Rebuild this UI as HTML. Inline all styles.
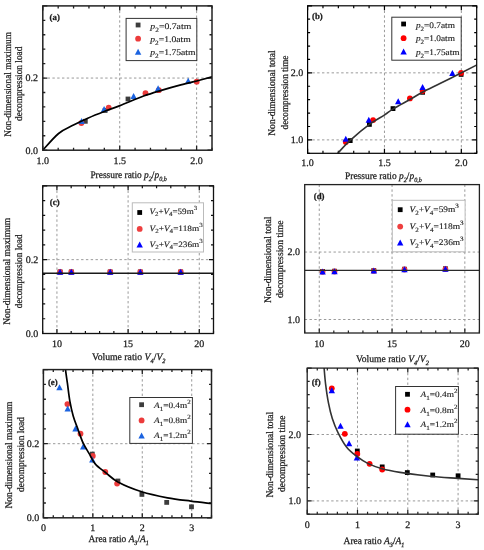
<!DOCTYPE html>
<html><head><meta charset="utf-8"><style>
html,body{margin:0;padding:0;background:#fff;}
svg{display:block;will-change:transform;}
text{font-family:"Liberation Serif", serif;fill:#1a1a1a;stroke:#1a1a1a;stroke-width:0.25px;text-rendering:geometricPrecision;}
text.lg{stroke-width:0.12px;}
</style></head><body>
<svg width="484" height="550" viewBox="0 0 484 550">
<rect width="484" height="550" fill="#fff"/>
<clipPath id="clipa"><rect x="42.80" y="5.90" width="169.20" height="144.30"/></clipPath>
<line x1="119.71" y1="5.90" x2="119.71" y2="150.20" stroke="#9a9a9a" stroke-width="1" stroke-dasharray="2.4 2.4"/>
<line x1="196.62" y1="5.90" x2="196.62" y2="150.20" stroke="#9a9a9a" stroke-width="1" stroke-dasharray="2.4 2.4"/>
<line x1="42.80" y1="78.05" x2="212.00" y2="78.05" stroke="#9a9a9a" stroke-width="1" stroke-dasharray="2.4 2.4"/>
<path d="M42.80,150.20v-4.5 M42.80,5.90v4.5 M58.18,150.20v-2.5 M58.18,5.90v2.5 M73.56,150.20v-2.5 M73.56,5.90v2.5 M88.95,150.20v-2.5 M88.95,5.90v2.5 M104.33,150.20v-2.5 M104.33,5.90v2.5 M119.71,150.20v-4.5 M119.71,5.90v4.5 M135.09,150.20v-2.5 M135.09,5.90v2.5 M150.47,150.20v-2.5 M150.47,5.90v2.5 M165.85,150.20v-2.5 M165.85,5.90v2.5 M181.24,150.20v-2.5 M181.24,5.90v2.5 M196.62,150.20v-4.5 M196.62,5.90v4.5 M212.00,150.20v-2.5 M212.00,5.90v2.5 M42.80,150.20h4.5 M212.00,150.20h-4.5 M42.80,135.77h2.5 M212.00,135.77h-2.5 M42.80,121.34h2.5 M212.00,121.34h-2.5 M42.80,106.91h2.5 M212.00,106.91h-2.5 M42.80,92.48h2.5 M212.00,92.48h-2.5 M42.80,78.05h4.5 M212.00,78.05h-4.5 M42.80,63.62h2.5 M212.00,63.62h-2.5 M42.80,49.19h2.5 M212.00,49.19h-2.5 M42.80,34.76h2.5 M212.00,34.76h-2.5 M42.80,20.33h2.5 M212.00,20.33h-2.5 M42.80,5.90h4.5 M212.00,5.90h-4.5" stroke="#222" stroke-width="1.3" fill="none"/>
<rect x="82.90" y="118.90" width="4.80" height="4.80" fill="#3d3d3d"/>
<rect x="102.70" y="108.10" width="4.80" height="4.80" fill="#3d3d3d"/>
<rect x="125.60" y="96.60" width="4.80" height="4.80" fill="#3d3d3d"/>
<circle cx="81.40" cy="123.00" r="2.90" fill="#ec3b3b"/>
<circle cx="108.70" cy="107.60" r="2.90" fill="#ec3b3b"/>
<circle cx="145.50" cy="93.20" r="2.90" fill="#ec3b3b"/>
<circle cx="158.80" cy="90.20" r="2.90" fill="#ec3b3b"/>
<circle cx="196.70" cy="81.70" r="2.90" fill="#ec3b3b"/>
<polygon points="81.60,118.00 84.80,124.00 78.40,124.00" fill="#1b63e0"/>
<polygon points="104.10,106.00 107.30,112.00 100.90,112.00" fill="#1b63e0"/>
<polygon points="133.60,93.10 136.80,99.10 130.40,99.10" fill="#1b63e0"/>
<polygon points="158.10,85.20 161.30,91.20 154.90,91.20" fill="#1b63e0"/>
<polygon points="188.20,77.80 191.40,83.80 185.00,83.80" fill="#1b63e0"/>
<path d="M42.80,150.20 C45.43,147.42 53.48,137.68 58.60,133.50 C63.72,129.32 68.55,127.68 73.50,125.10 C78.45,122.52 83.20,120.27 88.30,118.00 C93.40,115.73 98.82,113.57 104.10,111.50 C109.38,109.43 113.42,108.18 120.00,105.60 C126.58,103.02 136.57,98.58 143.60,96.00 C150.63,93.42 156.00,91.95 162.20,90.10 C168.40,88.25 174.60,86.55 180.80,84.90 C187.00,83.25 194.20,81.53 199.40,80.20 C204.60,78.87 209.23,77.62 212.00,76.90 C214.77,76.18 215.33,76.07 216.00,75.90" stroke="#000" stroke-width="1.7" fill="none" stroke-linejoin="round" clip-path="url(#clipa)"/>
<rect x="126.10" y="18.40" width="70.70" height="42.20" fill="#fff" stroke="#333" stroke-width="1.0"/>
<rect x="135.70" y="22.60" width="4.80" height="4.80" fill="#3d3d3d"/>
<text class="lg" x="150.30" y="28.70" font-size="8.6" textLength="41.0" lengthAdjust="spacingAndGlyphs"><tspan font-style="italic">p</tspan><tspan font-size="6.54" baseline-shift="-2.58">2</tspan>=0.7atm</text>
<circle cx="138.10" cy="38.70" r="2.90" fill="#ec3b3b"/>
<text class="lg" x="150.30" y="42.30" font-size="8.6" textLength="40.5" lengthAdjust="spacingAndGlyphs"><tspan font-style="italic">p</tspan><tspan font-size="6.54" baseline-shift="-2.58">2</tspan>=1.0atm</text>
<polygon points="138.10,48.80 141.30,54.80 134.90,54.80" fill="#1b63e0"/>
<text class="lg" x="150.30" y="55.40" font-size="8.6" textLength="45.2" lengthAdjust="spacingAndGlyphs"><tspan font-style="italic">p</tspan><tspan font-size="6.54" baseline-shift="-2.58">2</tspan>=1.75atm</text>
<rect x="42.80" y="5.90" width="169.20" height="144.30" fill="none" stroke="#222" stroke-width="1.5"/>
<text x="42.80" y="163.60" font-size="10" text-anchor="middle" >1.0</text>
<text x="119.71" y="163.60" font-size="10" text-anchor="middle" >1.5</text>
<text x="196.62" y="163.60" font-size="10" text-anchor="middle" >2.0</text>
<text x="38.00" y="153.60" font-size="10" text-anchor="end" >0.0</text>
<text x="38.00" y="81.45" font-size="10" text-anchor="end" >0.2</text>
<text x="49.60" y="19.90" font-size="8.8" font-weight="bold">(a)</text>
<text x="90.40" y="177.80" font-size="10" textLength="76.4" lengthAdjust="spacingAndGlyphs">Pressure ratio <tspan font-style="italic">p</tspan><tspan font-size="6.5" baseline-shift="-2.8" font-style="italic">2</tspan>/<tspan font-style="italic">p</tspan><tspan font-size="6.5" baseline-shift="-2.8" font-style="italic">0,b</tspan></text>
<text transform="translate(10.60,84.40) rotate(-90)" x="0" y="0" font-size="10" text-anchor="middle" textLength="104.8" lengthAdjust="spacingAndGlyphs">Non-dimensional maximum</text>
<text transform="translate(22.40,83.75) rotate(-90)" x="0" y="0" font-size="10" text-anchor="middle" textLength="74.3" lengthAdjust="spacingAndGlyphs">decompression load</text>
<clipPath id="clipb"><rect x="307.60" y="5.80" width="169.10" height="147.50"/></clipPath>
<line x1="384.46" y1="5.80" x2="384.46" y2="153.30" stroke="#9a9a9a" stroke-width="1" stroke-dasharray="2.4 2.4"/>
<line x1="461.33" y1="5.80" x2="461.33" y2="153.30" stroke="#9a9a9a" stroke-width="1" stroke-dasharray="2.4 2.4"/>
<line x1="307.60" y1="139.89" x2="476.70" y2="139.89" stroke="#9a9a9a" stroke-width="1" stroke-dasharray="2.4 2.4"/>
<line x1="307.60" y1="72.85" x2="476.70" y2="72.85" stroke="#9a9a9a" stroke-width="1" stroke-dasharray="2.4 2.4"/>
<path d="M307.60,153.30v-4.5 M307.60,5.80v4.5 M322.97,153.30v-2.5 M322.97,5.80v2.5 M338.35,153.30v-2.5 M338.35,5.80v2.5 M353.72,153.30v-2.5 M353.72,5.80v2.5 M369.09,153.30v-2.5 M369.09,5.80v2.5 M384.46,153.30v-4.5 M384.46,5.80v4.5 M399.84,153.30v-2.5 M399.84,5.80v2.5 M415.21,153.30v-2.5 M415.21,5.80v2.5 M430.58,153.30v-2.5 M430.58,5.80v2.5 M445.95,153.30v-2.5 M445.95,5.80v2.5 M461.33,153.30v-4.5 M461.33,5.80v4.5 M476.70,153.30v-2.5 M476.70,5.80v2.5 M307.60,153.30h2.5 M476.70,153.30h-2.5 M307.60,139.89h4.5 M476.70,139.89h-4.5 M307.60,126.48h2.5 M476.70,126.48h-2.5 M307.60,113.07h2.5 M476.70,113.07h-2.5 M307.60,99.66h2.5 M476.70,99.66h-2.5 M307.60,86.25h2.5 M476.70,86.25h-2.5 M307.60,72.85h4.5 M476.70,72.85h-4.5 M307.60,59.44h2.5 M476.70,59.44h-2.5 M307.60,46.03h2.5 M476.70,46.03h-2.5 M307.60,32.62h2.5 M476.70,32.62h-2.5 M307.60,19.21h2.5 M476.70,19.21h-2.5 M307.60,5.80h4.5 M476.70,5.80h-4.5" stroke="#000" stroke-width="1.2" fill="none"/>
<rect x="347.80" y="138.20" width="4.80" height="4.80" fill="#000000"/>
<rect x="367.00" y="122.00" width="4.80" height="4.80" fill="#000000"/>
<rect x="390.60" y="106.20" width="4.80" height="4.80" fill="#000000"/>
<rect x="420.20" y="89.90" width="4.80" height="4.80" fill="#000000"/>
<rect x="458.70" y="72.00" width="4.80" height="4.80" fill="#000000"/>
<circle cx="345.80" cy="142.00" r="2.90" fill="#ff0000"/>
<circle cx="373.10" cy="120.10" r="2.90" fill="#ff0000"/>
<circle cx="409.90" cy="98.40" r="2.90" fill="#ff0000"/>
<circle cx="422.60" cy="91.10" r="2.90" fill="#ff0000"/>
<circle cx="461.10" cy="72.90" r="2.90" fill="#ff0000"/>
<polygon points="345.80,135.70 349.00,141.70 342.60,141.70" fill="#0000ff"/>
<polygon points="368.80,116.80 372.00,122.80 365.60,122.80" fill="#0000ff"/>
<polygon points="398.20,98.20 401.40,104.20 395.00,104.20" fill="#0000ff"/>
<polygon points="422.60,84.10 425.80,90.10 419.40,90.10" fill="#0000ff"/>
<polygon points="452.40,69.90 455.60,75.90 449.20,75.90" fill="#0000ff"/>
<path d="M337.80,153.20 C339.82,151.10 344.63,145.40 349.90,140.60 C355.17,135.80 363.67,128.65 369.40,124.40 C375.13,120.15 380.27,117.73 384.30,115.10 C388.33,112.47 389.27,111.23 393.60,108.60 C397.93,105.97 405.50,102.03 410.30,99.30 C415.10,96.57 417.45,94.83 422.40,92.20 C427.35,89.57 433.57,86.70 440.00,83.50 C446.43,80.30 455.00,76.02 461.00,73.00 C467.00,69.98 472.83,67.00 476.00,65.40 C479.17,63.80 479.33,63.73 480.00,63.40" stroke="#333" stroke-width="1.6" fill="none" stroke-linejoin="round" clip-path="url(#clipb)"/>
<rect x="391.80" y="17.20" width="69.40" height="43.00" fill="#fff" stroke="#333" stroke-width="1.0"/>
<rect x="401.20" y="21.60" width="4.80" height="4.80" fill="#000000"/>
<text class="lg" x="415.90" y="27.60" font-size="8.6" textLength="39.0" lengthAdjust="spacingAndGlyphs"><tspan font-style="italic">p</tspan><tspan font-size="6.54" baseline-shift="-2.58">2</tspan>=0.7atm</text>
<circle cx="403.60" cy="38.20" r="2.90" fill="#ff0000"/>
<text class="lg" x="415.90" y="41.30" font-size="8.6" textLength="39.0" lengthAdjust="spacingAndGlyphs"><tspan font-style="italic">p</tspan><tspan font-size="6.54" baseline-shift="-2.58">2</tspan>=1.0atm</text>
<polygon points="403.60,48.60 406.80,54.60 400.40,54.60" fill="#0000ff"/>
<text class="lg" x="415.90" y="54.50" font-size="8.6" textLength="43.7" lengthAdjust="spacingAndGlyphs"><tspan font-style="italic">p</tspan><tspan font-size="6.54" baseline-shift="-2.58">2</tspan>=1.75atm</text>
<rect x="307.60" y="5.80" width="169.10" height="147.50" fill="none" stroke="#000" stroke-width="1.2"/>
<text x="307.60" y="166.30" font-size="10" text-anchor="middle" >1.0</text>
<text x="384.46" y="166.30" font-size="10" text-anchor="middle" >1.5</text>
<text x="461.33" y="166.30" font-size="10" text-anchor="middle" >2.0</text>
<text x="303.20" y="143.29" font-size="10" text-anchor="end" >1.0</text>
<text x="303.20" y="76.25" font-size="10" text-anchor="end" >2.0</text>
<text x="312.00" y="18.90" font-size="8.8" font-weight="bold">(b)</text>
<text x="345.00" y="178.60" font-size="10" textLength="76.8" lengthAdjust="spacingAndGlyphs">Pressure ratio <tspan font-style="italic">p</tspan><tspan font-size="6.5" baseline-shift="-2.8" font-style="italic">2</tspan>/<tspan font-style="italic">p</tspan><tspan font-size="6.5" baseline-shift="-2.8" font-style="italic">0,b</tspan></text>
<text transform="translate(274.70,93.10) rotate(-90)" x="0" y="0" font-size="10" text-anchor="middle" textLength="85.3" lengthAdjust="spacingAndGlyphs">Non-dimensional total</text>
<text transform="translate(287.50,92.50) rotate(-90)" x="0" y="0" font-size="10" text-anchor="middle" textLength="73.8" lengthAdjust="spacingAndGlyphs">decompression time</text>
<clipPath id="clipc"><rect x="42.70" y="185.80" width="170.80" height="147.70"/></clipPath>
<line x1="56.93" y1="185.80" x2="56.93" y2="333.50" stroke="#9a9a9a" stroke-width="1" stroke-dasharray="2.4 2.4"/>
<line x1="128.10" y1="185.80" x2="128.10" y2="333.50" stroke="#9a9a9a" stroke-width="1" stroke-dasharray="2.4 2.4"/>
<line x1="199.27" y1="185.80" x2="199.27" y2="333.50" stroke="#9a9a9a" stroke-width="1" stroke-dasharray="2.4 2.4"/>
<line x1="42.70" y1="259.65" x2="213.50" y2="259.65" stroke="#9a9a9a" stroke-width="1" stroke-dasharray="2.4 2.4"/>
<path d="M42.70,333.50v-2.5 M42.70,185.80v2.5 M56.93,333.50v-4.5 M56.93,185.80v4.5 M71.17,333.50v-2.5 M71.17,185.80v2.5 M85.40,333.50v-2.5 M85.40,185.80v2.5 M99.63,333.50v-2.5 M99.63,185.80v2.5 M113.87,333.50v-2.5 M113.87,185.80v2.5 M128.10,333.50v-4.5 M128.10,185.80v4.5 M142.33,333.50v-2.5 M142.33,185.80v2.5 M156.57,333.50v-2.5 M156.57,185.80v2.5 M170.80,333.50v-2.5 M170.80,185.80v2.5 M185.03,333.50v-2.5 M185.03,185.80v2.5 M199.27,333.50v-4.5 M199.27,185.80v4.5 M213.50,333.50v-2.5 M213.50,185.80v2.5 M42.70,333.50h4.5 M213.50,333.50h-4.5 M42.70,318.73h2.5 M213.50,318.73h-2.5 M42.70,303.96h2.5 M213.50,303.96h-2.5 M42.70,289.19h2.5 M213.50,289.19h-2.5 M42.70,274.42h2.5 M213.50,274.42h-2.5 M42.70,259.65h4.5 M213.50,259.65h-4.5 M42.70,244.88h2.5 M213.50,244.88h-2.5 M42.70,230.11h2.5 M213.50,230.11h-2.5 M42.70,215.34h2.5 M213.50,215.34h-2.5 M42.70,200.57h2.5 M213.50,200.57h-2.5 M42.70,185.80h4.5 M213.50,185.80h-4.5" stroke="#111" stroke-width="1.2" fill="none"/>
<rect x="57.70" y="269.60" width="4.80" height="4.80" fill="#000000"/>
<rect x="68.90" y="269.60" width="4.80" height="4.80" fill="#000000"/>
<rect x="107.80" y="269.60" width="4.80" height="4.80" fill="#000000"/>
<rect x="137.90" y="269.60" width="4.80" height="4.80" fill="#000000"/>
<rect x="178.30" y="269.60" width="4.80" height="4.80" fill="#000000"/>
<circle cx="60.10" cy="272.00" r="2.90" fill="#ee3f3f"/>
<circle cx="71.30" cy="272.00" r="2.90" fill="#ee3f3f"/>
<circle cx="110.20" cy="272.00" r="2.90" fill="#ee3f3f"/>
<circle cx="140.30" cy="272.00" r="2.90" fill="#ee3f3f"/>
<circle cx="180.70" cy="272.00" r="2.90" fill="#ee3f3f"/>
<polygon points="60.10,268.80 63.30,274.80 56.90,274.80" fill="#0000ff"/>
<polygon points="71.30,268.80 74.50,274.80 68.10,274.80" fill="#0000ff"/>
<polygon points="110.20,268.80 113.40,274.80 107.00,274.80" fill="#0000ff"/>
<polygon points="140.30,268.80 143.50,274.80 137.10,274.80" fill="#0000ff"/>
<polygon points="180.70,268.80 183.90,274.80 177.50,274.80" fill="#0000ff"/>
<path d="M42.70,273.30 C71.17,273.30 185.03,273.30 213.50,273.30" stroke="#1a1a1a" stroke-width="1.4" fill="none" stroke-linejoin="round" clip-path="url(#clipc)"/>
<rect x="132.30" y="202.80" width="71.20" height="49.20" fill="#fff" stroke="#bbb" stroke-width="1.0"/>
<rect x="137.30" y="210.10" width="4.80" height="4.80" fill="#000000"/>
<text class="lg" x="149.50" y="213.90" font-size="8.2" textLength="47.6" lengthAdjust="spacingAndGlyphs"><tspan font-style="italic">V</tspan><tspan font-size="6.23" baseline-shift="-2.46">2</tspan>+<tspan font-style="italic">V</tspan><tspan font-size="6.23" baseline-shift="-2.46">4</tspan>=59m<tspan font-size="6.23" baseline-shift="3.94">3</tspan></text>
<circle cx="139.70" cy="228.90" r="2.90" fill="#ee3f3f"/>
<text class="lg" x="149.50" y="230.70" font-size="8.2" textLength="53.2" lengthAdjust="spacingAndGlyphs"><tspan font-style="italic">V</tspan><tspan font-size="6.23" baseline-shift="-2.46">2</tspan>+<tspan font-style="italic">V</tspan><tspan font-size="6.23" baseline-shift="-2.46">4</tspan>=118m<tspan font-size="6.23" baseline-shift="3.94">3</tspan></text>
<polygon points="139.70,241.60 142.90,247.60 136.50,247.60" fill="#0000ff"/>
<text class="lg" x="149.50" y="246.80" font-size="8.2" textLength="53.2" lengthAdjust="spacingAndGlyphs"><tspan font-style="italic">V</tspan><tspan font-size="6.23" baseline-shift="-2.46">2</tspan>+<tspan font-style="italic">V</tspan><tspan font-size="6.23" baseline-shift="-2.46">4</tspan>=236m<tspan font-size="6.23" baseline-shift="3.94">3</tspan></text>
<rect x="42.70" y="185.80" width="170.80" height="147.70" fill="none" stroke="#111" stroke-width="1.3"/>
<text x="56.93" y="347.00" font-size="10" text-anchor="middle" >10</text>
<text x="128.10" y="347.00" font-size="10" text-anchor="middle" >15</text>
<text x="199.27" y="347.00" font-size="10" text-anchor="middle" >20</text>
<text x="38.20" y="336.90" font-size="10" text-anchor="end" >0.0</text>
<text x="38.20" y="263.05" font-size="10" text-anchor="end" >0.2</text>
<text x="49.80" y="205.30" font-size="8.8" font-weight="bold">(c)</text>
<text x="91.90" y="360.30" font-size="10" textLength="73.6" lengthAdjust="spacingAndGlyphs">Volume ratio <tspan font-style="italic">V</tspan><tspan font-size="6.5" baseline-shift="-2.8" font-style="italic">4</tspan>/<tspan font-style="italic">V</tspan><tspan font-size="6.5" baseline-shift="-2.8" font-style="italic">2</tspan></text>
<text transform="translate(10.20,271.30) rotate(-90)" x="0" y="0" font-size="10" text-anchor="middle" textLength="107.0" lengthAdjust="spacingAndGlyphs">Non-dimensional maximum</text>
<text transform="translate(21.60,271.30) rotate(-90)" x="0" y="0" font-size="10" text-anchor="middle" textLength="73.7" lengthAdjust="spacingAndGlyphs">decompression load</text>
<clipPath id="clipd"><rect x="304.70" y="184.60" width="174.70" height="148.40"/></clipPath>
<line x1="319.26" y1="184.60" x2="319.26" y2="333.00" stroke="#9a9a9a" stroke-width="1" stroke-dasharray="2.4 2.4"/>
<line x1="392.05" y1="184.60" x2="392.05" y2="333.00" stroke="#9a9a9a" stroke-width="1" stroke-dasharray="2.4 2.4"/>
<line x1="464.84" y1="184.60" x2="464.84" y2="333.00" stroke="#9a9a9a" stroke-width="1" stroke-dasharray="2.4 2.4"/>
<line x1="304.70" y1="319.51" x2="479.40" y2="319.51" stroke="#9a9a9a" stroke-width="1" stroke-dasharray="2.4 2.4"/>
<line x1="304.70" y1="252.05" x2="479.40" y2="252.05" stroke="#9a9a9a" stroke-width="1" stroke-dasharray="2.4 2.4"/>
<path d="M304.70,333.00v-2.5 M319.26,333.00v-4.5 M333.82,333.00v-2.5 M348.38,333.00v-2.5 M362.93,333.00v-2.5 M377.49,333.00v-2.5 M392.05,333.00v-4.5 M406.61,333.00v-2.5 M421.17,333.00v-2.5 M435.72,333.00v-2.5 M450.28,333.00v-2.5 M464.84,333.00v-4.5 M479.40,333.00v-2.5" stroke="#222" stroke-width="1.2" fill="none"/>
<rect x="320.20" y="269.10" width="4.80" height="4.80" fill="#000000"/>
<rect x="332.10" y="268.80" width="4.80" height="4.80" fill="#000000"/>
<rect x="371.40" y="268.20" width="4.80" height="4.80" fill="#000000"/>
<rect x="402.10" y="266.80" width="4.80" height="4.80" fill="#000000"/>
<rect x="443.00" y="266.40" width="4.80" height="4.80" fill="#000000"/>
<circle cx="322.60" cy="271.80" r="2.90" fill="#ee3f3f"/>
<circle cx="334.50" cy="271.50" r="2.90" fill="#ee3f3f"/>
<circle cx="373.80" cy="270.90" r="2.90" fill="#ee3f3f"/>
<circle cx="404.50" cy="269.50" r="2.90" fill="#ee3f3f"/>
<circle cx="445.40" cy="269.10" r="2.90" fill="#ee3f3f"/>
<polygon points="322.60,268.50 325.80,274.50 319.40,274.50" fill="#0000ff"/>
<polygon points="334.50,268.20 337.70,274.20 331.30,274.20" fill="#0000ff"/>
<polygon points="373.80,267.60 377.00,273.60 370.60,273.60" fill="#0000ff"/>
<polygon points="404.50,266.20 407.70,272.20 401.30,272.20" fill="#0000ff"/>
<polygon points="445.40,265.80 448.60,271.80 442.20,271.80" fill="#0000ff"/>
<path d="M304.70,270.30 C333.82,270.30 450.28,270.30 479.40,270.30" stroke="#2a2a2a" stroke-width="1.3" fill="none" stroke-linejoin="round" clip-path="url(#clipd)"/>
<rect x="392.30" y="200.30" width="72.80" height="51.50" fill="#fff" stroke="#bbb" stroke-width="1.0"/>
<rect x="397.80" y="207.30" width="4.80" height="4.80" fill="#000000"/>
<text class="lg" x="409.60" y="211.80" font-size="8.6" textLength="49.2" lengthAdjust="spacingAndGlyphs"><tspan font-style="italic">V</tspan><tspan font-size="6.54" baseline-shift="-2.58">2</tspan>+<tspan font-style="italic">V</tspan><tspan font-size="6.54" baseline-shift="-2.58">4</tspan>=59m<tspan font-size="6.54" baseline-shift="4.13">3</tspan></text>
<circle cx="400.20" cy="226.60" r="2.90" fill="#ee3f3f"/>
<text class="lg" x="409.60" y="228.70" font-size="8.6" textLength="54.1" lengthAdjust="spacingAndGlyphs"><tspan font-style="italic">V</tspan><tspan font-size="6.54" baseline-shift="-2.58">2</tspan>+<tspan font-style="italic">V</tspan><tspan font-size="6.54" baseline-shift="-2.58">4</tspan>=118m<tspan font-size="6.54" baseline-shift="4.13">3</tspan></text>
<polygon points="400.20,239.60 403.40,245.60 397.00,245.60" fill="#0000ff"/>
<text class="lg" x="409.60" y="244.80" font-size="8.6" textLength="54.1" lengthAdjust="spacingAndGlyphs"><tspan font-style="italic">V</tspan><tspan font-size="6.54" baseline-shift="-2.58">2</tspan>+<tspan font-style="italic">V</tspan><tspan font-size="6.54" baseline-shift="-2.58">4</tspan>=236m<tspan font-size="6.54" baseline-shift="4.13">3</tspan></text>
<rect x="304.70" y="184.60" width="174.70" height="148.40" fill="none" stroke="#222" stroke-width="1.3"/>
<text x="319.26" y="347.00" font-size="10" text-anchor="middle" >10</text>
<text x="392.05" y="347.00" font-size="10" text-anchor="middle" >15</text>
<text x="464.84" y="347.00" font-size="10" text-anchor="middle" >20</text>
<text x="300.00" y="322.91" font-size="10" text-anchor="end" >1.0</text>
<text x="300.00" y="255.45" font-size="10" text-anchor="end" >2.0</text>
<text x="313.80" y="199.20" font-size="8.8" font-weight="bold">(d)</text>
<text x="356.10" y="362.30" font-size="10" textLength="72.7" lengthAdjust="spacingAndGlyphs">Volume ratio <tspan font-style="italic">V</tspan><tspan font-size="6.5" baseline-shift="-2.8" font-style="italic">4</tspan>/<tspan font-style="italic">V</tspan><tspan font-size="6.5" baseline-shift="-2.8" font-style="italic">2</tspan></text>
<text transform="translate(270.50,259.80) rotate(-90)" x="0" y="0" font-size="10" text-anchor="middle" textLength="86.5" lengthAdjust="spacingAndGlyphs">Non-dimensional total</text>
<text transform="translate(283.20,259.20) rotate(-90)" x="0" y="0" font-size="10" text-anchor="middle" textLength="77.6" lengthAdjust="spacingAndGlyphs">decompression time</text>
<clipPath id="clipe"><rect x="43.40" y="369.60" width="168.10" height="148.20"/></clipPath>
<line x1="92.84" y1="369.60" x2="92.84" y2="517.80" stroke="#9a9a9a" stroke-width="1" stroke-dasharray="2.4 2.4"/>
<line x1="142.28" y1="369.60" x2="142.28" y2="517.80" stroke="#9a9a9a" stroke-width="1" stroke-dasharray="2.4 2.4"/>
<line x1="191.72" y1="369.60" x2="191.72" y2="517.80" stroke="#9a9a9a" stroke-width="1" stroke-dasharray="2.4 2.4"/>
<line x1="43.40" y1="443.70" x2="211.50" y2="443.70" stroke="#9a9a9a" stroke-width="1" stroke-dasharray="2.4 2.4"/>
<path d="M43.40,517.80v-4.5 M43.40,369.60v4.5 M53.29,517.80v-2.5 M53.29,369.60v2.5 M63.18,517.80v-2.5 M63.18,369.60v2.5 M73.06,517.80v-2.5 M73.06,369.60v2.5 M82.95,517.80v-2.5 M82.95,369.60v2.5 M92.84,517.80v-4.5 M92.84,369.60v4.5 M102.73,517.80v-2.5 M102.73,369.60v2.5 M112.62,517.80v-2.5 M112.62,369.60v2.5 M122.51,517.80v-2.5 M122.51,369.60v2.5 M132.39,517.80v-2.5 M132.39,369.60v2.5 M142.28,517.80v-4.5 M142.28,369.60v4.5 M152.17,517.80v-2.5 M152.17,369.60v2.5 M162.06,517.80v-2.5 M162.06,369.60v2.5 M171.95,517.80v-2.5 M171.95,369.60v2.5 M181.84,517.80v-2.5 M181.84,369.60v2.5 M191.72,517.80v-4.5 M191.72,369.60v4.5 M201.61,517.80v-2.5 M201.61,369.60v2.5 M211.50,517.80v-2.5 M211.50,369.60v2.5 M43.40,517.80h4.5 M211.50,517.80h-4.5 M43.40,502.98h2.5 M211.50,502.98h-2.5 M43.40,488.16h2.5 M211.50,488.16h-2.5 M43.40,473.34h2.5 M211.50,473.34h-2.5 M43.40,458.52h2.5 M211.50,458.52h-2.5 M43.40,443.70h4.5 M211.50,443.70h-4.5 M43.40,428.88h2.5 M211.50,428.88h-2.5 M43.40,414.06h2.5 M211.50,414.06h-2.5 M43.40,399.24h2.5 M211.50,399.24h-2.5 M43.40,384.42h2.5 M211.50,384.42h-2.5 M43.40,369.60h4.5 M211.50,369.60h-4.5" stroke="#222" stroke-width="1.3" fill="none"/>
<rect x="89.90" y="451.70" width="4.80" height="4.80" fill="#3d3d3d"/>
<rect x="115.50" y="478.60" width="4.80" height="4.80" fill="#3d3d3d"/>
<rect x="139.50" y="492.00" width="4.80" height="4.80" fill="#3d3d3d"/>
<rect x="164.30" y="500.00" width="4.80" height="4.80" fill="#3d3d3d"/>
<rect x="189.10" y="504.40" width="4.80" height="4.80" fill="#3d3d3d"/>
<circle cx="67.40" cy="404.10" r="2.90" fill="#ec3b3b"/>
<circle cx="80.50" cy="433.70" r="2.90" fill="#ec3b3b"/>
<circle cx="92.80" cy="455.90" r="2.90" fill="#ec3b3b"/>
<circle cx="105.30" cy="472.00" r="2.90" fill="#ec3b3b"/>
<circle cx="117.10" cy="483.60" r="2.90" fill="#ec3b3b"/>
<polygon points="59.50,384.20 62.70,390.20 56.30,390.20" fill="#1b63e0"/>
<polygon points="67.70,405.60 70.90,411.60 64.50,411.60" fill="#1b63e0"/>
<polygon points="75.50,425.60 78.70,431.60 72.30,431.60" fill="#1b63e0"/>
<polygon points="83.20,443.50 86.40,449.50 80.00,449.50" fill="#1b63e0"/>
<polygon points="92.30,456.50 95.50,462.50 89.10,462.50" fill="#1b63e0"/>
<path d="M64.90,362.00 C65.00,363.27 65.08,366.07 65.50,369.60 C65.92,373.13 66.67,377.90 67.40,383.20 C68.13,388.50 68.93,395.95 69.90,401.40 C70.87,406.85 71.90,411.37 73.20,415.90 C74.50,420.43 76.03,424.05 77.70,428.60 C79.37,433.15 81.23,438.95 83.20,443.20 C85.17,447.45 87.47,450.62 89.50,454.10 C91.53,457.58 92.73,461.03 95.40,464.10 C98.07,467.17 101.67,469.47 105.50,472.50 C109.33,475.53 112.37,479.08 118.40,482.30 C124.43,485.52 133.52,489.22 141.70,491.80 C149.88,494.38 159.33,496.25 167.50,497.80 C175.67,499.35 183.42,500.15 190.70,501.10 C197.98,502.05 207.15,503.03 211.20,503.50 C215.25,503.97 214.37,503.83 215.00,503.90" stroke="#000" stroke-width="1.7" fill="none" stroke-linejoin="round" clip-path="url(#clipe)"/>
<rect x="129.80" y="397.50" width="62.60" height="45.90" fill="#fff" stroke="#333" stroke-width="1.0"/>
<rect x="139.20" y="402.30" width="4.80" height="4.80" fill="#3d3d3d"/>
<text class="lg" x="154.00" y="408.00" font-size="8.4" textLength="36.7" lengthAdjust="spacingAndGlyphs"><tspan font-style="italic">A</tspan><tspan font-size="6.38" baseline-shift="-2.52">1</tspan>=0.4m<tspan font-size="6.38" baseline-shift="4.03">2</tspan></text>
<circle cx="141.60" cy="420.40" r="2.90" fill="#ec3b3b"/>
<text class="lg" x="154.00" y="422.90" font-size="8.4" textLength="36.7" lengthAdjust="spacingAndGlyphs"><tspan font-style="italic">A</tspan><tspan font-size="6.38" baseline-shift="-2.52">1</tspan>=0.8m<tspan font-size="6.38" baseline-shift="4.03">2</tspan></text>
<polygon points="141.60,432.50 144.80,438.50 138.40,438.50" fill="#1b63e0"/>
<text class="lg" x="154.00" y="438.20" font-size="8.4" textLength="36.7" lengthAdjust="spacingAndGlyphs"><tspan font-style="italic">A</tspan><tspan font-size="6.38" baseline-shift="-2.52">1</tspan>=1.2m<tspan font-size="6.38" baseline-shift="4.03">2</tspan></text>
<rect x="43.40" y="369.60" width="168.10" height="148.20" fill="none" stroke="#222" stroke-width="1.5"/>
<text x="43.40" y="530.80" font-size="10" text-anchor="middle" >0</text>
<text x="92.84" y="530.80" font-size="10" text-anchor="middle" >1</text>
<text x="142.28" y="530.80" font-size="10" text-anchor="middle" >2</text>
<text x="191.72" y="530.80" font-size="10" text-anchor="middle" >3</text>
<text x="39.20" y="521.20" font-size="10" text-anchor="end" >0.0</text>
<text x="39.20" y="447.10" font-size="10" text-anchor="end" >0.2</text>
<text x="47.90" y="385.00" font-size="8.8" font-weight="bold">(e)</text>
<text x="88.50" y="542.30" font-size="10" textLength="60.3" lengthAdjust="spacingAndGlyphs">Area ratio <tspan font-style="italic">A</tspan><tspan font-size="6.5" baseline-shift="-2.8" font-style="italic">3</tspan>/<tspan font-style="italic">A</tspan><tspan font-size="6.5" baseline-shift="-2.8" font-style="italic">1</tspan></text>
<text transform="translate(12.20,455.00) rotate(-90)" x="0" y="0" font-size="10" text-anchor="middle" textLength="107.0" lengthAdjust="spacingAndGlyphs">Non-dimensional maximum</text>
<text transform="translate(24.20,454.50) rotate(-90)" x="0" y="0" font-size="10" text-anchor="middle" textLength="75.0" lengthAdjust="spacingAndGlyphs">decompression load</text>
<clipPath id="clipf"><rect x="307.20" y="368.10" width="171.00" height="146.10"/></clipPath>
<line x1="357.49" y1="368.10" x2="357.49" y2="514.20" stroke="#9a9a9a" stroke-width="1" stroke-dasharray="2.4 2.4"/>
<line x1="407.79" y1="368.10" x2="407.79" y2="514.20" stroke="#9a9a9a" stroke-width="1" stroke-dasharray="2.4 2.4"/>
<line x1="458.08" y1="368.10" x2="458.08" y2="514.20" stroke="#9a9a9a" stroke-width="1" stroke-dasharray="2.4 2.4"/>
<line x1="307.20" y1="500.92" x2="478.20" y2="500.92" stroke="#9a9a9a" stroke-width="1" stroke-dasharray="2.4 2.4"/>
<line x1="307.20" y1="434.51" x2="478.20" y2="434.51" stroke="#9a9a9a" stroke-width="1" stroke-dasharray="2.4 2.4"/>
<path d="M307.20,514.20v-4.5 M307.20,368.10v4.5 M317.26,514.20v-2.5 M317.26,368.10v2.5 M327.32,514.20v-2.5 M327.32,368.10v2.5 M337.38,514.20v-2.5 M337.38,368.10v2.5 M347.44,514.20v-2.5 M347.44,368.10v2.5 M357.49,514.20v-4.5 M357.49,368.10v4.5 M367.55,514.20v-2.5 M367.55,368.10v2.5 M377.61,514.20v-2.5 M377.61,368.10v2.5 M387.67,514.20v-2.5 M387.67,368.10v2.5 M397.73,514.20v-2.5 M397.73,368.10v2.5 M407.79,514.20v-4.5 M407.79,368.10v4.5 M417.85,514.20v-2.5 M417.85,368.10v2.5 M427.91,514.20v-2.5 M427.91,368.10v2.5 M437.96,514.20v-2.5 M437.96,368.10v2.5 M448.02,514.20v-2.5 M448.02,368.10v2.5 M458.08,514.20v-4.5 M458.08,368.10v4.5 M468.14,514.20v-2.5 M468.14,368.10v2.5 M478.20,514.20v-2.5 M478.20,368.10v2.5 M307.20,514.20h2.5 M478.20,514.20h-2.5 M307.20,500.92h4.5 M478.20,500.92h-4.5 M307.20,487.64h2.5 M478.20,487.64h-2.5 M307.20,474.35h2.5 M478.20,474.35h-2.5 M307.20,461.07h2.5 M478.20,461.07h-2.5 M307.20,447.79h2.5 M478.20,447.79h-2.5 M307.20,434.51h4.5 M478.20,434.51h-4.5 M307.20,421.23h2.5 M478.20,421.23h-2.5 M307.20,407.95h2.5 M478.20,407.95h-2.5 M307.20,394.66h2.5 M478.20,394.66h-2.5 M307.20,381.38h2.5 M478.20,381.38h-2.5 M307.20,368.10h4.5 M478.20,368.10h-4.5" stroke="#222" stroke-width="1.2" fill="none"/>
<rect x="354.90" y="448.60" width="4.80" height="4.80" fill="#000000"/>
<rect x="379.80" y="464.50" width="4.80" height="4.80" fill="#000000"/>
<rect x="404.90" y="470.20" width="4.80" height="4.80" fill="#000000"/>
<rect x="430.30" y="472.60" width="4.80" height="4.80" fill="#000000"/>
<rect x="455.70" y="473.40" width="4.80" height="4.80" fill="#000000"/>
<circle cx="331.80" cy="388.30" r="2.90" fill="#ff0000"/>
<circle cx="344.80" cy="433.80" r="2.90" fill="#ff0000"/>
<circle cx="357.30" cy="453.90" r="2.90" fill="#ff0000"/>
<circle cx="369.60" cy="463.80" r="2.90" fill="#ff0000"/>
<circle cx="382.20" cy="469.50" r="2.90" fill="#ff0000"/>
<polygon points="331.80,387.20 335.00,393.20 328.60,393.20" fill="#0000ff"/>
<polygon points="340.50,422.80 343.70,428.80 337.30,428.80" fill="#0000ff"/>
<polygon points="349.10,440.30 352.30,446.30 345.90,446.30" fill="#0000ff"/>
<polygon points="356.90,454.50 360.10,460.50 353.70,460.50" fill="#0000ff"/>
<path d="M323.60,360.00 C323.68,361.32 323.77,363.88 324.10,367.90 C324.43,371.92 324.87,378.22 325.60,384.10 C326.33,389.98 327.38,397.47 328.50,403.20 C329.62,408.93 330.70,413.57 332.30,418.50 C333.90,423.43 335.70,428.02 338.10,432.80 C340.50,437.58 343.52,443.22 346.70,447.20 C349.88,451.18 353.70,454.00 357.20,456.70 C360.70,459.40 363.53,461.38 367.70,463.40 C371.87,465.42 376.82,467.30 382.20,468.80 C387.58,470.30 392.03,471.15 400.00,472.40 C407.97,473.65 420.33,475.30 430.00,476.30 C439.67,477.30 450.03,477.82 458.00,478.40 C465.97,478.98 473.80,479.52 477.80,479.80 C481.80,480.08 481.30,480.05 482.00,480.10" stroke="#333" stroke-width="1.6" fill="none" stroke-linejoin="round" clip-path="url(#clipf)"/>
<rect x="395.60" y="386.50" width="62.80" height="47.70" fill="#fff" stroke="#333" stroke-width="1.0"/>
<rect x="405.10" y="391.90" width="4.80" height="4.80" fill="#000000"/>
<text class="lg" x="420.60" y="397.30" font-size="8.4" textLength="37.0" lengthAdjust="spacingAndGlyphs"><tspan font-style="italic">A</tspan><tspan font-size="6.38" baseline-shift="-2.52">1</tspan>=0.4m<tspan font-size="6.38" baseline-shift="4.03">2</tspan></text>
<circle cx="407.50" cy="409.70" r="2.90" fill="#ff0000"/>
<text class="lg" x="420.60" y="412.50" font-size="8.4" textLength="37.0" lengthAdjust="spacingAndGlyphs"><tspan font-style="italic">A</tspan><tspan font-size="6.38" baseline-shift="-2.52">1</tspan>=0.8m<tspan font-size="6.38" baseline-shift="4.03">2</tspan></text>
<polygon points="407.50,421.20 410.70,427.20 404.30,427.20" fill="#0000ff"/>
<text class="lg" x="420.60" y="427.30" font-size="8.4" textLength="37.0" lengthAdjust="spacingAndGlyphs"><tspan font-style="italic">A</tspan><tspan font-size="6.38" baseline-shift="-2.52">1</tspan>=1.2m<tspan font-size="6.38" baseline-shift="4.03">2</tspan></text>
<rect x="307.20" y="368.10" width="171.00" height="146.10" fill="none" stroke="#222" stroke-width="1.3"/>
<text x="307.20" y="528.20" font-size="10" text-anchor="middle" >0</text>
<text x="357.49" y="528.20" font-size="10" text-anchor="middle" >1</text>
<text x="407.79" y="528.20" font-size="10" text-anchor="middle" >2</text>
<text x="458.08" y="528.20" font-size="10" text-anchor="middle" >3</text>
<text x="301.00" y="504.32" font-size="10" text-anchor="end" >1.0</text>
<text x="301.00" y="437.91" font-size="10" text-anchor="end" >2.0</text>
<text x="311.80" y="385.00" font-size="8.8" font-weight="bold">(f)</text>
<text x="343.60" y="544.00" font-size="10" textLength="60.8" lengthAdjust="spacingAndGlyphs">Area ratio <tspan font-style="italic">A</tspan><tspan font-size="6.5" baseline-shift="-2.8" font-style="italic">3</tspan>/<tspan font-style="italic">A</tspan><tspan font-size="6.5" baseline-shift="-2.8" font-style="italic">1</tspan></text>
<text transform="translate(272.70,454.70) rotate(-90)" x="0" y="0" font-size="10" text-anchor="middle" textLength="85.8" lengthAdjust="spacingAndGlyphs">Non-dimensional total</text>
<text transform="translate(284.70,453.80) rotate(-90)" x="0" y="0" font-size="10" text-anchor="middle" textLength="76.4" lengthAdjust="spacingAndGlyphs">decompression time</text>
</svg>
</body></html>
